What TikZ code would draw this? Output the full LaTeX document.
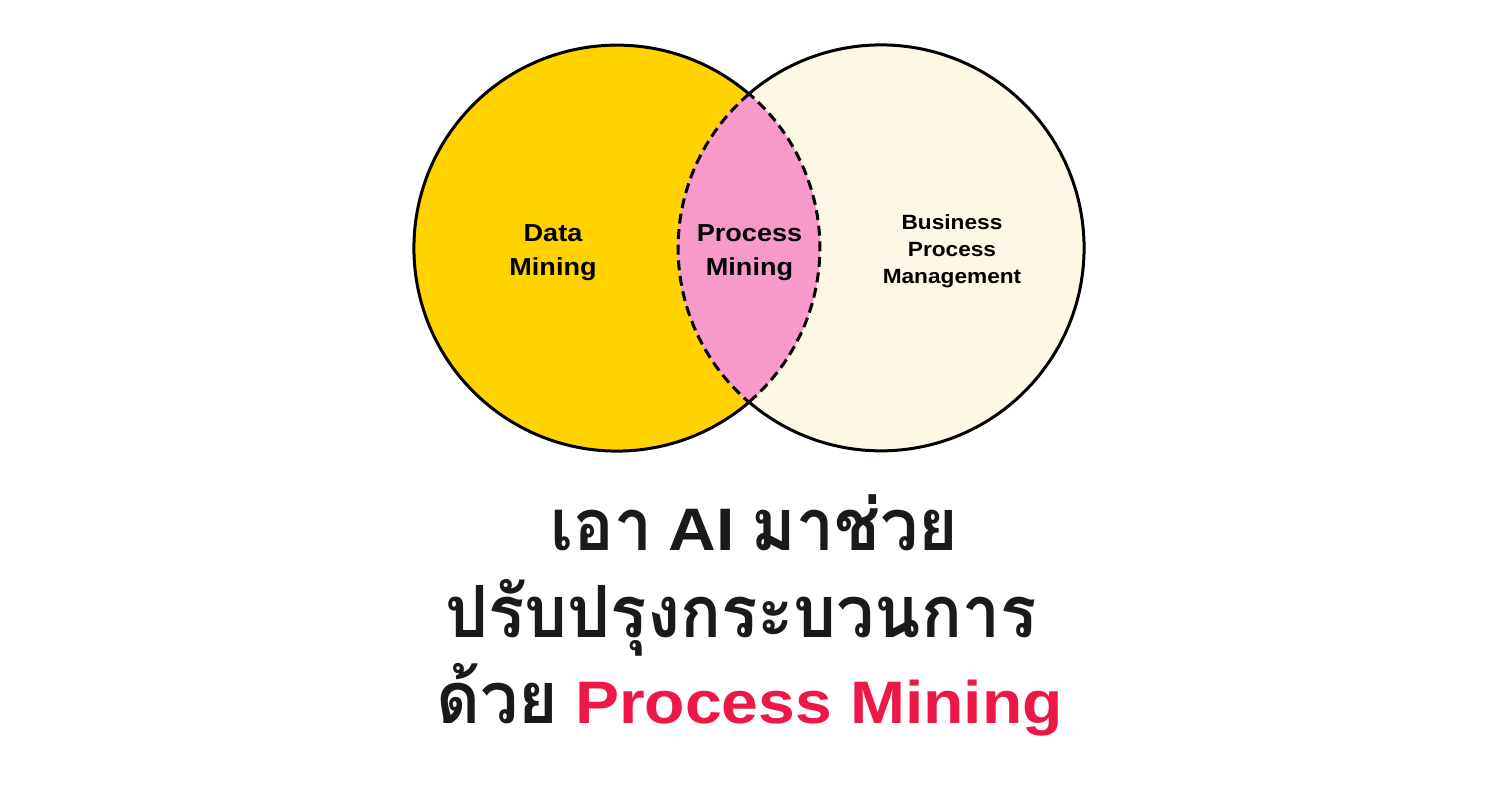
\documentclass[tikz,border=0pt]{standalone}
\usepackage{fontspec}
\setmainfont{Liberation Sans}
\newfontfamily\latinfont{Liberation Sans}[FakeStretch=1.1]
\newfontfamily\thaifont{Loma}[Script=Thai, Scale=1.2, FakeStretch=0.94]
\definecolor{dmyellow}{HTML}{FFD200}
\definecolor{bpcream}{HTML}{FDF8E6}
\definecolor{pmpink}{HTML}{F799C9}
\definecolor{titlered}{HTML}{EE1847}
\definecolor{titleblack}{HTML}{1A1A1A}
\tikzset{
  outline/.style={line width=1.5pt, black},
  lensline/.style={line width=1.5pt, black, dash pattern=on 5pt off 2.8pt},
  circlabel/.style={font=\latinfont\bfseries\fontsize{12.3}{17}\selectfont, align=center, text=black, inner sep=0pt},
  smalllabel/.style={font=\latinfont\bfseries\fontsize{10.3}{13.5}\selectfont, align=center, text=black, inner sep=0pt},
  titleline/.style={font=\bfseries\fontsize{30}{34}\selectfont, anchor=base, text=titleblack, inner sep=0pt},
}
\begin{document}
\begin{tikzpicture}[x=0.5pt, y=0.5pt]
\useasboundingbox[fill=white] (0,0) rectangle (1500,788);
\coordinate (lc) at (617,540);
\coordinate (rc) at (881,540);
\coordinate (top) at (749,694);
\coordinate (bot) at (749,386);
% fills
\fill[dmyellow] (lc) circle[radius=203];
\fill[bpcream] (rc) circle[radius=203];
\begin{scope}
  \clip (lc) circle[radius=203];
  \fill[pmpink] (rc) circle[radius=203];
\end{scope}
% outlines
\draw[outline] (top) arc[start angle=49.4, end angle=310.6, radius=203];
\draw[outline] (bot) arc[start angle=-130.6, end angle=130.6, radius=203];
\draw[lensline] (bot) arc[start angle=-49.4, end angle=49.4, radius=203];
\draw[lensline] (top) arc[start angle=130.6, end angle=229.4, radius=203];
% labels
\node[circlabel] (dm) at (553,535) {Data\\Mining};
\node[circlabel] (pm) at (749.5,535) {Process\\Mining};
\node[smalllabel] (bpm) at (952,537) {Business\\Process\\Management};
% title
\node[titleline] (t1) at (754,237) {{\thaifont เอา} {\latinfont AI} {\thaifont มาช่วย}};
\node[titleline] (t2) at (741,151) {{\thaifont ปรับปรุงกระบวนการ}};
\node[titleline] (t3) at (750,65) {{\thaifont ด้วย} \textcolor{titlered}{\latinfont Process Mining}};
\end{tikzpicture}
\end{document}
